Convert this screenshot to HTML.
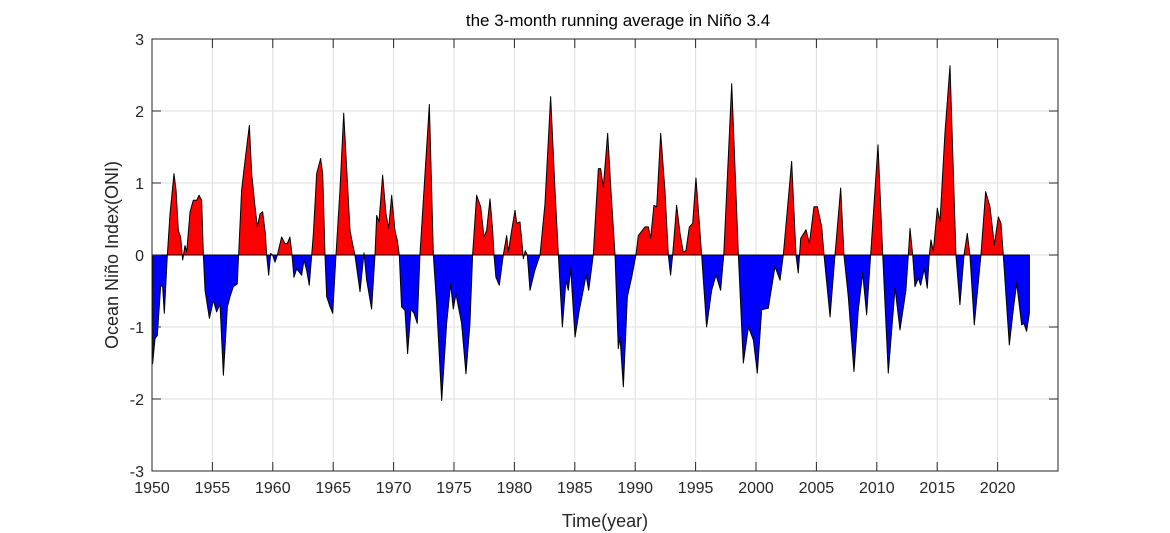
<!DOCTYPE html>
<html><head><meta charset="utf-8"><style>
body{margin:0;background:#fff;}
svg{display:block;font-family:"Liberation Sans",Arial,sans-serif;}
</style></head><body>
<svg id="chart" width="1170" height="533" viewBox="0 0 1170 533">
<rect width="1170" height="533" fill="#fff"/>
<rect x="152" y="39" width="906" height="432" fill="#fff"/>
<g id="grid"></g>
<g id="series"></g>
<g id="axes"></g>
<text x="618" y="26" font-size="17" text-anchor="middle" fill="#000">the 3-month running average in Niño 3.4</text>
<text x="605" y="527" font-size="18" text-anchor="middle" fill="#262626">Time(year)</text>
<text transform="translate(118,255) rotate(-90)" font-size="18" text-anchor="middle" fill="#262626">Ocean Niño Index(ONI)</text>
</svg>
<script>
const years = [1950.05,1950.25,1950.44,1950.72,1950.88,1951.02,1951.27,1951.49,1951.82,1951.99,1952.18,1952.37,1952.54,1952.73,1952.87,1953.15,1953.42,1953.70,1953.89,1954.11,1954.25,1954.39,1954.75,1955.08,1955.35,1955.63,1955.91,1956.24,1956.46,1956.73,1957.06,1957.17,1957.42,1957.70,1958.06,1958.25,1958.53,1958.72,1958.94,1959.16,1959.38,1959.49,1959.66,1959.82,1959.99,1960.18,1960.38,1960.73,1961.01,1961.20,1961.42,1961.59,1961.75,1961.98,1962.20,1962.39,1962.58,1962.80,1963.02,1963.22,1963.36,1963.63,1963.96,1964.13,1964.32,1964.46,1964.74,1964.96,1965.23,1965.56,1965.87,1966.39,1966.66,1966.80,1967.22,1967.55,1967.77,1968.18,1968.46,1968.60,1968.79,1969.09,1969.37,1969.59,1969.84,1970.11,1970.31,1970.47,1970.66,1970.94,1971.16,1971.44,1971.69,1971.96,1972.18,1972.60,1972.96,1973.29,1973.56,1973.98,1974.39,1974.72,1974.94,1975.16,1975.63,1975.99,1976.32,1976.54,1976.87,1977.21,1977.48,1977.70,1977.98,1978.20,1978.31,1978.47,1978.75,1979.08,1979.36,1979.50,1979.77,1980.05,1980.19,1980.46,1980.63,1980.74,1980.90,1981.07,1981.29,1981.70,1982.12,1982.53,1983.00,1983.36,1983.64,1983.97,1984.27,1984.46,1984.66,1985.02,1985.37,1985.70,1985.93,1986.15,1986.53,1986.95,1987.14,1987.36,1987.72,1987.99,1988.33,1988.60,1988.74,1989.02,1989.35,1989.71,1990.06,1990.26,1990.81,1991.09,1991.28,1991.55,1991.78,1992.11,1992.46,1992.74,1992.93,1993.10,1993.43,1993.71,1993.98,1994.20,1994.48,1994.76,1995.03,1995.31,1995.50,1995.91,1996.33,1996.69,1997.07,1997.33,1997.99,1998.54,1998.95,1999.37,1999.78,2000.11,2000.47,2001.02,2001.57,2001.99,2002.26,2002.68,2002.95,2003.31,2003.50,2003.70,2004.14,2004.42,2004.80,2005.08,2005.44,2005.63,2006.13,2006.54,2007.01,2007.28,2007.64,2008.11,2008.47,2008.83,2009.16,2009.49,2010.10,2010.49,2010.95,2011.51,2011.92,2012.41,2012.61,2012.75,2012.97,2013.16,2013.44,2013.63,2013.93,2014.18,2014.35,2014.48,2014.68,2015.01,2015.23,2015.64,2016.06,2016.55,2016.88,2017.22,2017.49,2017.71,2018.07,2018.40,2018.62,2019.01,2019.37,2019.73,2020.06,2020.28,2020.47,2020.97,2021.30,2021.58,2021.99,2022.18,2022.40,2022.63];
const oniValues = [-1.51,-1.16,-1.12,-0.42,-0.44,-0.81,0,0.57,1.13,0.90,0.34,0.25,-0.07,0.13,0.04,0.60,0.76,0.76,0.83,0.76,0,-0.49,-0.88,-0.63,-0.79,-0.68,-1.67,-0.72,-0.58,-0.44,-0.40,0,0.90,1.31,1.80,1.13,0.67,0.39,0.57,0.60,0.30,0,-0.28,0.02,0,-0.10,0,0.25,0.16,0.16,0.25,0,-0.31,-0.19,-0.24,-0.28,-0.07,-0.21,-0.42,0,0.30,1.13,1.34,1.13,0,-0.58,-0.72,-0.81,0,0.90,1.97,0.34,0.11,0,-0.51,0.03,-0.35,-0.75,0,0.55,0.46,1.11,0.57,0.37,0.83,0.34,0.20,0,-0.72,-0.77,-1.37,-0.75,-0.81,-0.95,0,1.13,2.09,0,-0.68,-2.02,-0.95,-0.40,-0.75,-0.54,-0.95,-1.65,-0.95,0,0.83,0.67,0.25,0.34,0.78,0.34,0,-0.31,-0.42,0,0.27,0.04,0.34,0.62,0.44,0.46,0.16,-0.05,0.06,0,-0.49,-0.21,0,0.71,2.20,0.90,0,-1.00,-0.35,-0.49,-0.19,-1.14,-0.77,-0.49,-0.28,-0.49,0,1.20,1.20,0.94,1.69,0.90,0,-1.30,-1.14,-1.83,-0.58,-0.31,0,0.27,0.39,0.39,0.23,0.69,0.67,1.69,0.90,0,-0.28,0,0.69,0.30,0.04,0.06,0.39,0.44,1.07,0.44,0,-1.00,-0.49,-0.28,-0.49,0,2.38,0,-1.50,-1.00,-1.18,-1.64,-0.76,-0.74,-0.16,-0.35,0,0.79,1.30,0,-0.25,0.23,0.35,0.16,0.67,0.67,0.39,0,-0.86,0,0.93,0,-0.58,-1.62,-0.76,-0.25,-0.83,0,1.53,0,-1.64,-0.46,-1.04,-0.49,0,0.37,0,-0.44,-0.32,-0.42,-0.19,-0.46,0,0.21,0.05,0.65,0.46,1.69,2.63,0,-0.69,0,0.30,0,-0.97,-0.39,0,0.88,0.67,0.14,0.53,0.44,0,-1.25,-0.76,-0.39,-0.97,-0.95,-1.06,-0.81];
const xTicks = [1950,1955,1960,1965,1970,1975,1980,1985,1990,1995,2000,2005,2010,2015,2020];
const yTicks = [-3,-2,-1,0,1,2,3];

const NS = "http://www.w3.org/2000/svg";
const X0 = 152, X1 = 1058, Y0 = 39, Y1 = 471;
const xMin = 1950, xMax = 2025, yMin = -3, yMax = 3;
function xs(v){ return X0 + (v - xMin) / (xMax - xMin) * (X1 - X0); }
function ys(v){ return Y1 - (v - yMin) / (yMax - yMin) * (Y1 - Y0); }
function mk(tag, attrs, parent){ const e = document.createElementNS(NS, tag); for (const k in attrs) e.setAttribute(k, attrs[k]); parent.appendChild(e); return e; }

const grid = document.getElementById('grid');
const axes = document.getElementById('axes');
const series = document.getElementById('series');

xTicks.forEach(t => {
  const g = mk('line', {x1: xs(t), x2: xs(t), y1: Y0, y2: Y1, stroke: '#dfdfdf', 'stroke-width': 1}, grid);
  
  
  const tk = mk('line', {x1: xs(t), x2: xs(t), y1: Y1, y2: Y1 - 9, stroke: '#262626', 'stroke-width': 1}, axes);
  
  
  const tk2 = mk('line', {x1: xs(t), x2: xs(t), y1: Y0, y2: Y0 + 9, stroke: '#262626', 'stroke-width': 1}, axes);
  
  
  const lb = mk('text', {x: xs(t), y: Y1 + 22, 'font-size': 16, 'text-anchor': 'middle', fill: '#262626'}, axes);
  lb.textContent = t;
  
  
});
yTicks.forEach(t => {
  const g = mk('line', {x1: X0, x2: X1, y1: ys(t), y2: ys(t), stroke: '#dfdfdf', 'stroke-width': 1}, grid);
  
  
  const tk = mk('line', {x1: X0, x2: X0 + 9, y1: ys(t), y2: ys(t), stroke: '#262626', 'stroke-width': 1}, axes);
  
  
  const tk2 = mk('line', {x1: X1, x2: X1 - 9, y1: ys(t), y2: ys(t), stroke: '#262626', 'stroke-width': 1}, axes);
  
  
  const lb = mk('text', {x: X0 - 8, y: ys(t) + 6, 'font-size': 16, 'text-anchor': 'end', fill: '#262626'}, axes);
  lb.textContent = t;
  
  
});
const box = mk('rect', {x: X0, y: Y0, width: X1 - X0, height: Y1 - Y0, fill: 'none', stroke: '#262626', 'stroke-width': 1}, axes);



// area path
let d = 'M' + xs(years[0]) + ',' + ys(0);
for (let i = 0; i < years.length; i++) d += ' L' + xs(years[i]).toFixed(2) + ',' + ys(oniValues[i]).toFixed(2);
d += ' L' + xs(years[years.length - 1]).toFixed(2) + ',' + ys(0) + ' Z';

const defs = mk('defs', {}, series);
const cpA = mk('clipPath', {id: 'above'}, defs);
mk('rect', {x: X0, y: Y0, width: X1 - X0, height: ys(0) - Y0}, cpA);
const cpB = mk('clipPath', {id: 'below'}, defs);
mk('rect', {x: X0, y: ys(0), width: X1 - X0, height: Y1 - ys(0)}, cpB);

const pos = mk('path', {d: d, fill: '#ff0000', 'clip-path': 'url(#above)'}, series);


const neg = mk('path', {d: d, fill: '#0000ff', 'clip-path': 'url(#below)'}, series);


const outline = mk('path', {d: d, fill: 'none', stroke: '#000', 'stroke-width': 1, 'stroke-linejoin': 'round'}, series);


</script>
</body></html>
